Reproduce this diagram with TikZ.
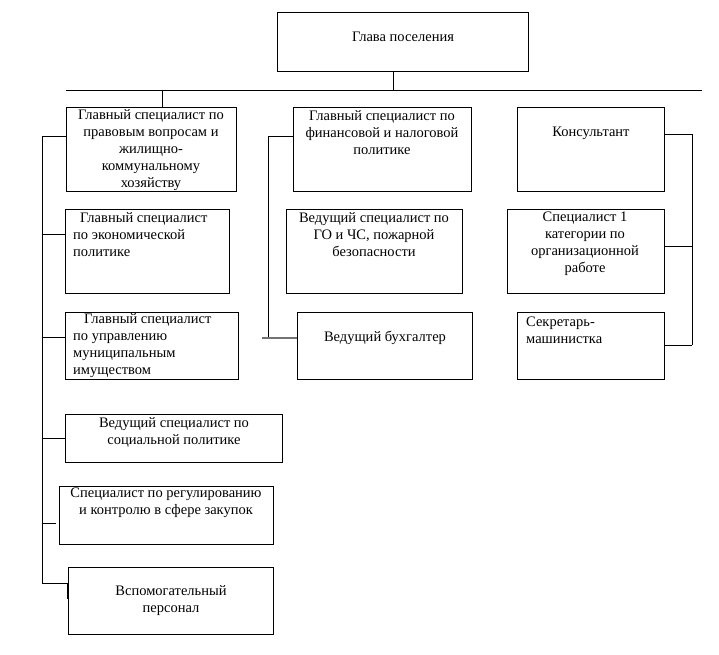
\documentclass[tikz,border=0pt]{standalone}
\usepackage{fontspec}
\setmainfont{Liberation Serif}
\begin{document}
\begin{tikzpicture}[x=1pt,y=-1pt,
  box/.style={draw, line width=0.9pt, inner sep=0pt},
  txt/.style={inner sep=0pt, font=\fontsize{14.5}{17}\selectfont},
  ctxt/.style={txt, align=center},
  ltxt/.style={txt, align=left, anchor=west},
  conn/.style={line width=0.9pt},
  gconn/.style={line width=1.2pt, black!55}]
\useasboundingbox (0,0) rectangle (719,654);
% boxes
\node[box, minimum width=251pt, minimum height=59pt] (glava) at (402.5,41.5) {};
\node[box, minimum width=170pt, minimum height=84pt] (b1) at (151,149) {};
\node[box, minimum width=178pt, minimum height=84pt] (b2) at (382,149) {};
\node[box, minimum width=147pt, minimum height=84pt] (b3) at (590.5,149) {};
\node[box, minimum width=164pt, minimum height=84pt] (econ) at (147,251) {};
\node[box, minimum width=173pt, minimum height=67pt] (mun) at (151.5,345.5) {};
\node[box, minimum width=176pt, minimum height=84pt] (go) at (374,251) {};
\node[box, minimum width=175pt, minimum height=67pt] (buh) at (384.5,345.5) {};
\node[box, minimum width=157pt, minimum height=84pt] (spec) at (585.5,251) {};
\node[box, minimum width=147pt, minimum height=67pt] (sekr) at (590.5,345.5) {};
\node[box, minimum width=217pt, minimum height=48pt] (soc) at (173.5,438) {};
\node[box, minimum width=214pt, minimum height=58pt] (reg) at (166,515) {};
\node[box, minimum width=205pt, minimum height=67pt] (vsp) at (170.5,600.5) {};
% texts
\node[ctxt] (tglava) at (403,37) {Глава поселения};
\node[ctxt] (tb1) at (151,150) {Главный специалист по\\правовым вопросам и\\жилищно-\\коммунальному\\хозяйству};
\node[ctxt] (tb2) at (382,133) {Главный специалист по\\финансовой и налоговой\\политике};
\node[ctxt] (tb3) at (591,133) {Консультант};
\node[ltxt] (tecon) at (73,235) {\hspace*{7pt}Главный специалист\\по экономической\\политике};
\node[ltxt] (tmun) at (73,346) {\hspace*{11pt}Главный специалист\\по управлению\\муниципальным\\имуществом};
\node[ctxt] (tgo) at (374,235) {Ведущий специалист по\\ГО и ЧС, пожарной\\безопасности};
\node[ctxt] (tbuh) at (385,338) {Ведущий бухгалтер};
\node[ctxt] (tspec) at (585,244) {Специалист 1\\категории по\\организационной\\работе};
\node[ltxt] (tsekr) at (526,330) {Секретарь-\\машинистка};
\node[ctxt] (tsoc) at (174,432) {Ведущий специалист по\\социальной политике};
\node[ctxt] (treg) at (166,503) {Специалист по регулированию\\и контролю в сфере закупок};
\node[ctxt] (tvsp) at (171,601) {Вспомогательный\\персонал};
% bus coordinates
\coordinate (gdrop) at (393,90);
\coordinate (hL) at (66,90);
\coordinate (hR) at (702,90);
\coordinate (b1drop) at (162,90);
\coordinate (lt) at (42,136);
\coordinate (l2) at (42,234);
\coordinate (l3) at (42,337);
\coordinate (l4) at (42,438);
\coordinate (l5) at (42,523);
\coordinate (l6) at (42,583);
\coordinate (l5e) at (56,523);
\coordinate (mt) at (268,136);
\coordinate (mb) at (268,338);
\coordinate (mbl) at (262,338);
\coordinate (rt) at (692,134);
\coordinate (r2) at (692,246);
\coordinate (rb) at (692,345);
% connectors
\draw[conn] (glava.south -| gdrop) -- (gdrop);
\draw[conn] (hL) -- (hR);
\draw[conn] (b1drop) -- (b1drop |- b1.north);
\draw[conn] (lt) -- (l6);
\draw[conn] (lt) -- (lt -| b1.west);
\draw[conn] (l2) -- (l2 -| econ.west);
\draw[conn] (l3) -- (l3 -| mun.west);
\draw[conn] (l4) -- (l4 -| soc.west);
\draw[conn] (l5) -- (l5e);
\draw[conn] (l6) -- (l6 -| vsp.west);
\draw[line width=2pt] (l6 -| vsp.west) -- ++(0,16);
\draw[conn] (mt) -- (mb);
\draw[conn] (mt) -- (mt -| b2.west);
\draw[gconn] (mbl) -- (mbl -| buh.west);
\draw[conn] (rt) -- (rb);
\draw[conn] (rt) -- (rt -| b3.east);
\draw[conn] (r2) -- (r2 -| spec.east);
\draw[conn] (rb) -- (rb -| sekr.east);
\end{tikzpicture}
\end{document}
